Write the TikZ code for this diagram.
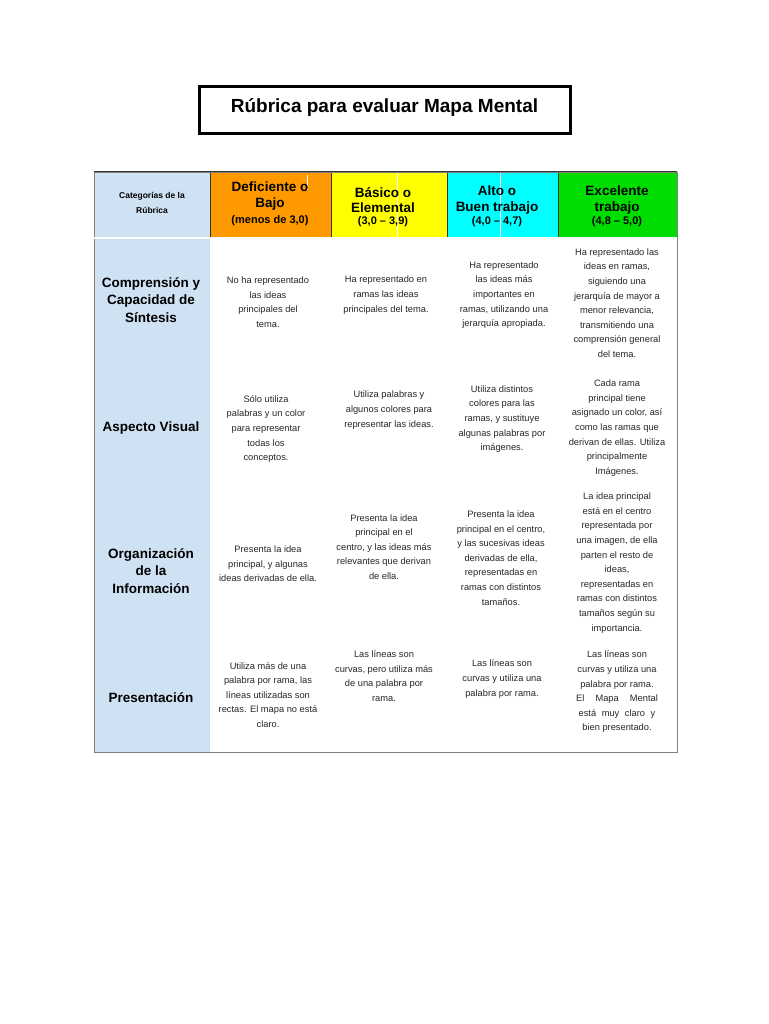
\documentclass[tikz,border=0pt]{standalone}
\usepackage{fontspec}
\setmainfont{Liberation Sans}
\begin{document}
\begin{tikzpicture}[x=1pt,y=-1pt,
  body/.style={align=center,font=\fontsize{9.3}{14.6}\selectfont,text=black!85},
  cat/.style={align=center,font=\bfseries\fontsize{13.5}{17.5}\selectfont},
  head/.style={align=center,font=\bfseries\fontsize{13.5}{15.5}\selectfont},
  headsm/.style={font=\bfseries\fontsize{11}{13}\selectfont}]
\useasboundingbox (0,0) rectangle (768,1024);
\definecolor{catblue}{RGB}{207,226,243}
\definecolor{orangeh}{RGB}{255,153,0}
\definecolor{yellowh}{RGB}{255,255,0}
\definecolor{cyanh}{RGB}{0,255,255}
\definecolor{greenh}{RGB}{0,221,0}
% title
\draw[line width=3pt] (199,87) rectangle (570,134);
\node[font=\bfseries\fontsize{19}{22}\selectfont] (title) at (384.5,108) {Rúbrica para evaluar Mapa Mental};
% header fills
\fill[catblue] (94,172) rectangle (210,237);
\fill[orangeh] (210,172) rectangle (331,237);
\fill[yellowh] (331,172) rectangle (447,237);
\fill[cyanh] (447,172) rectangle (558,237);
\fill[greenh] (558,172) rectangle (677,237);
\draw[white,line width=0.8pt] (307,175) -- (307,190);
\draw[white,line width=0.8pt] (397,172) -- (397,237);
\draw[white,line width=0.8pt] (500,172) -- (500,237);
\draw[black!80,line width=0.8pt] (210,172) -- (210,237) (331,172) -- (331,237) (447,172) -- (447,237) (558,172) -- (558,237);
\draw[black!80,line width=1pt] (94,172) -- (677,172);
% body
\fill[catblue] (94,239) rectangle (210,752);
\draw[black!50,line width=0.8pt] (94,172) rectangle (677,752);
\draw[white,line width=1.5pt] (94,238) -- (677,238);
% header text
\node[font=\bfseries\fontsize{8.5}{15}\selectfont,align=center] (h0) at (152,203) {Categorías de la\\Rúbrica};
\node[head] (h1) at (270,196) {Deficiente o\\Bajo};
\node[headsm] (h1b) at (270,221) {(menos de 3,0)};
\node[head] (h2) at (383,200) {Básico o\\Elemental};
\node[headsm] (h2b) at (383,222) {(3,0 -- 3,9)};
\node[head] (h3) at (497,200) {Alto o\\Buen trabajo};
\node[headsm] (h3b) at (497,222) {(4,0 -- 4,7)};
\node[head] (h4) at (617,200) {Excelente\\trabajo};
\node[headsm] (h4b) at (617,222) {(4,8 -- 5,0)};
% categories
\node[cat] (c1) at (151,300) {Comprensión y\\Capacidad de\\Síntesis};
\node[cat] (c2) at (151,428) {Aspecto Visual};
\node[cat] (c3) at (151,571) {Organización\\de la\\Información};
\node[cat] (c4) at (151,698) {Presentación};
% row 1
\node[body] (r11) at (268,302) {No ha representado\\las ideas\\principales del\\tema.};
\node[body] (r12) at (386,295) {Ha representado en\\ramas las ideas\\principales del tema.};
\node[body] (r13) at (504,295) {Ha representado\\las ideas más\\importantes en\\ramas, utilizando una\\jerarquía apropiada.};
\node[body] (r14) at (617,303) {Ha representado las\\ideas en ramas,\\siguiendo una\\jerarquía de mayor a\\menor relevancia,\\transmitiendo una\\comprensión general\\del tema.};
% row 2
\node[body] (r21) at (266,429) {Sólo utiliza\\palabras y un color\\para representar\\todas los\\conceptos.};
\node[body] (r22) at (389,410) {Utiliza palabras y\\algunos colores para\\representar las ideas.};
\node[body] (r23) at (502,419) {Utiliza distintos\\colores para las\\ramas, y sustituye\\algunas palabras por\\imágenes.};
\node[body] (r24) at (617,428) {Cada rama\\principal tiene\\asignado un color, así\\como las ramas que\\derivan de ellas. Utiliza\\principalmente\\Imágenes.};
% row 3
\node[body] (r31) at (268,564) {Presenta la idea\\principal, y algunas\\ideas derivadas de ella.};
\node[body] (r32) at (384,547) {Presenta la idea\\principal en el\\centro, y las ideas más\\relevantes que derivan\\de ella.};
\node[body] (r33) at (501,558) {Presenta la idea\\principal en el centro,\\y las sucesivas ideas\\derivadas de ella,\\representadas en\\ramas con distintos\\tamaños.};
\node[body] (r34) at (617,563) {La idea principal\\está en el centro\\representada por\\una imagen, de ella\\parten el resto de\\ideas,\\representadas en\\ramas con distintos\\tamaños según su\\importancia.};
% row 4
\node[body] (r41) at (268,695) {Utiliza más de una\\palabra por rama, las\\líneas utilizadas son\\rectas. El mapa no está\\claro.};
\node[body] (r42) at (384,676) {Las líneas son\\curvas, pero utiliza más\\de una palabra por\\rama.};
\node[body] (r43) at (502,679) {Las líneas son\\curvas y utiliza una\\palabra por rama.};
\node[body] (r44) at (617,692) {Las líneas son\\curvas y utiliza una\\palabra por rama.\\El\hspace{1.2em}Mapa\hspace{1.2em}Mental\\está\hspace{0.6em}muy\hspace{0.6em}claro\hspace{0.6em}y\\bien presentado.};
\end{tikzpicture}
\end{document}
